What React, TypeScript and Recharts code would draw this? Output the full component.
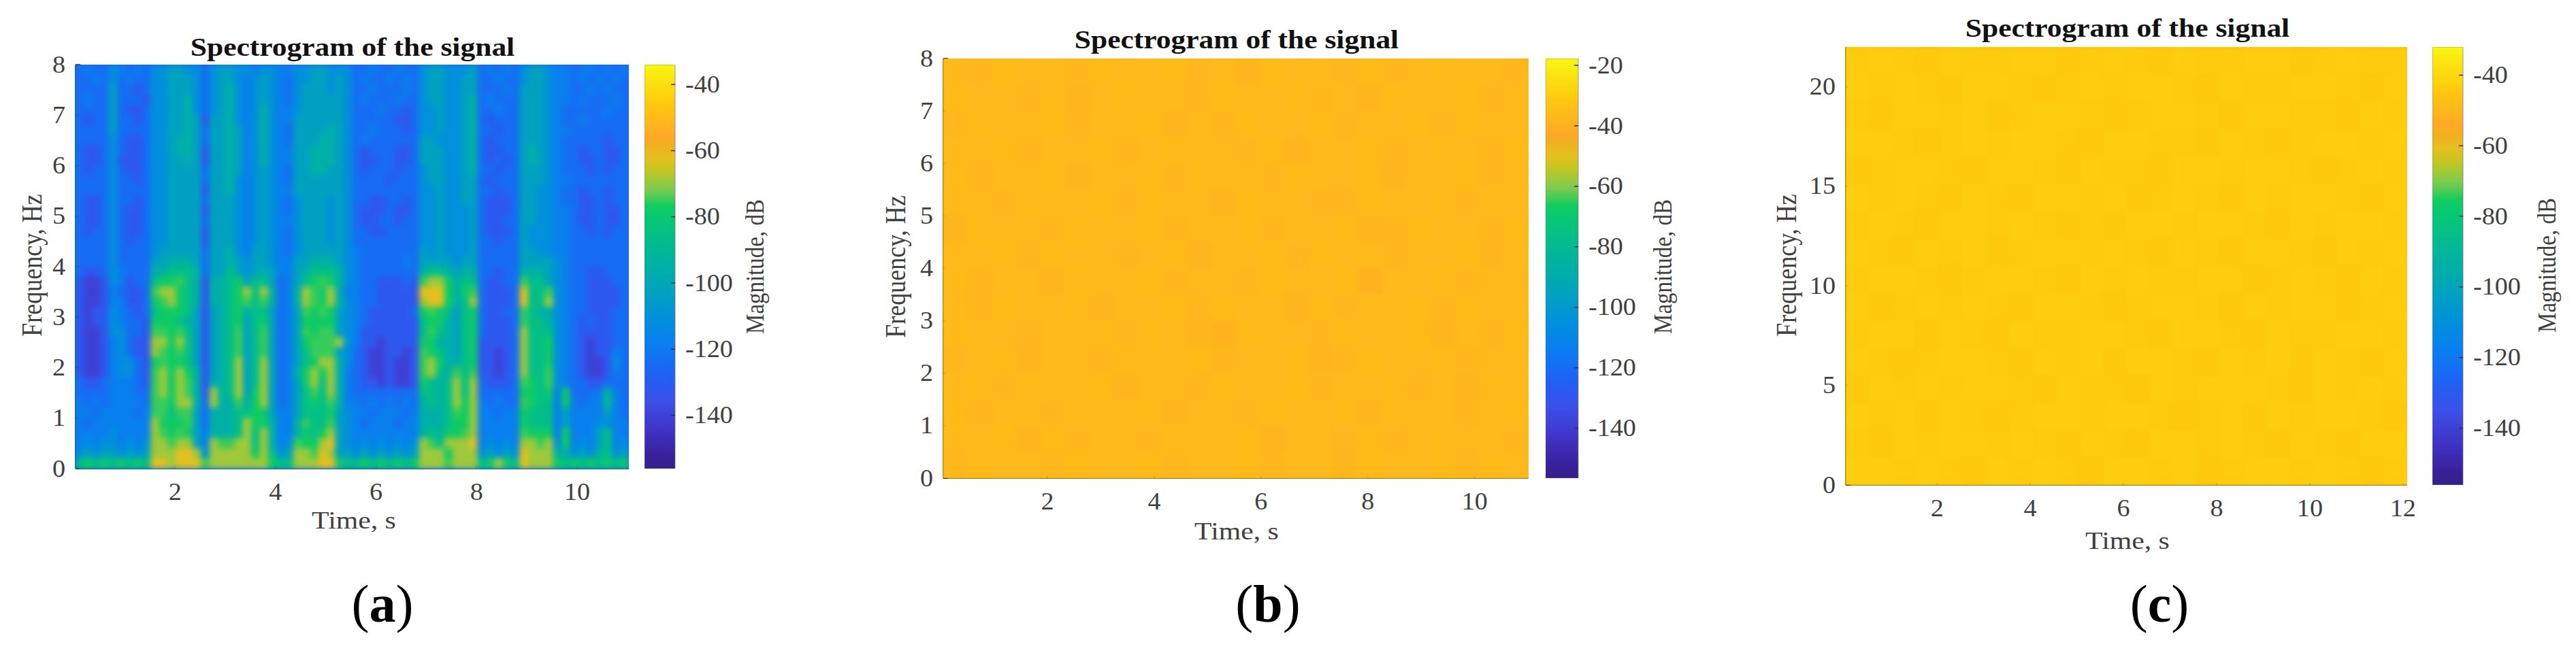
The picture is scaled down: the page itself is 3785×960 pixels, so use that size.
import { Bar, BarChart, ReferenceArea, Scatter, ScatterChart, XAxis, YAxis } from "recharts"

// magnitude of each code used in the spectrogram rows, dB
const speechLevels = [-140, -131.5, -124, -118, -111, -103, -95, -86, -78, -75, -69, -62]
const noiseLevelsB = [-36.4, -37, -37.6, -38.2, -39.2]
const noiseLevelsC = [-43, -43.6, -44.2, -44.8, -45.5]

// panel (a), top row = 8 Hz, bottom row = 0 Hz, spaces only group columns
const speechRows = [
  "2322 4 3232 445544 2 4554 4344 33 445544 4 22322322 4554445 23232 4554 33 2332323",
  "2232 4 2322 445554 2 4554 3454 32 445545 4 23223232 4554455 22322 4554 33 2323232",
  "2222 5 2212 445554 2 4564 3454 32 455545 4 22322232 4554455 22232 5554 33 2232322",
  "2322 5 2221 445564 2 4564 3454 32 455555 4 23222322 4554456 23222 5554 33 2322232",
  "2222 5 2112 445564 2 4564 3464 33 455555 4 22232212 4454456 22322 5554 32 2222322",
  "2122 5 2212 445565 1 5564 3464 33 555555 4 22222112 4454456 21222 5554 32 2322222",
  "2222 5 2222 445565 2 5565 3464 32 555565 4 22322212 4454456 22122 5554 33 2222222",
  "2222 4 2112 445665 2 5565 3464 32 555665 4 23222222 5544456 21222 5554 32 2222122",
  "2112 4 2112 445665 1 5565 3464 33 556665 4 21222112 5554456 21122 5654 32 2122112",
  "2112 4 1112 445565 1 5565 3464 33 556665 4 21122112 5554456 21212 5654 32 2112112",
  "2122 4 2112 445555 2 5565 3454 32 556655 4 21222122 4554456 22122 5554 32 2212122",
  "2222 4 2212 445555 2 5564 3454 32 555555 4 22221222 4554455 21222 5554 33 2222222",
  "2222 4 2222 445555 1 5564 3454 33 555555 4 22222222 4454455 22122 5544 32 2122122",
  "2112 4 2212 445555 2 5554 3454 32 455545 4 22112212 4454455 21112 5544 32 2112122",
  "2112 4 2112 445555 1 5554 3454 32 455545 4 21112112 4454445 21112 5544 33 2112112",
  "2112 4 2112 445555 2 5554 3454 33 455545 4 21122122 4454445 21122 5544 33 2112112",
  "2122 4 2112 445555 1 5554 3454 32 455545 4 22112222 4454445 21112 5444 33 2212122",
  "2222 4 2122 445555 1 5554 3454 32 455545 4 22222222 4454445 22122 5444 33 2222222",
  "2222 4 2222 455555 2 5564 3554 32 455555 4 32222222 5454445 22222 5544 33 2222222",
  "2222 4 2222 556665 2 5565 4554 33 556665 4 32222232 5555455 22222 5555 43 2222222",
  "2112 4 3222 667776 2 5575 4565 33 567776 4 32222222 6776566 22122 6665 43 2211222",
  "1001 4 3122 788976 1 6678 5775 23 578986 4 32211121 9aa8677 21122 9775 43 2211122",
  "1001 3 2112 9aa876 1 6678 a7a6 23 6a98a6 3 32211111 bbb8689 21112 b779 43 2211112",
  "1001 3 3112 89a876 1 6678 9796 23 6a98a6 4 32211111 abb867a 21112 b77a 43 2211112",
  "1011 4 3212 788875 1 5678 6775 23 598985 4 32111112 8987578 21122 9766 43 2211122",
  "1011 4 3221 888765 1 5678 5785 23 588885 4 32111111 7886578 21112 9776 43 2121122",
  "1001 4 4221 998975 1 5679 5795 23 598995 4 31111111 7976578 21112 a777 43 2111122",
  "1001 3 4211 aa8a75 1 5679 5795 23 58999a 4 31101111 8866578 11112 a778 43 2101122",
  "1001 3 4211 a98975 1 5679 5795 23 579995 4 21001101 9876578 11012 a778 43 2101132",
  "1001 3 4421 898875 1 567a 57a5 23 578aa6 4 21001001 9a86678 11012 a778 43 2100142",
  "1001 3 4421 9a8a86 1 567a 57a5 23 68a8a6 3 21001001 9a76979 11012 a779 43 2100132",
  "2112 3 3321 9a8a96 1 667a 57a5 23 58a7a6 3 21101001 8767a7a 21112 9879 43 2211222",
  "2222 3 3322 9a8a96 1 a67a 58a5 23 5797a6 3 22222222 7767a7a 22222 8878 38 2223632",
  "3232 3 3332 998aa6 2 a669 68a5 23 578796 3 32323232 6767a8a 32322 9877 38 3233732",
  "3323 3 3323 997995 2 6667 7885 33 577785 4 33233323 666798a 33233 8777 35 3333532",
  "3233 3 3333 a88895 2 6667 a886 33 697795 4 32333233 666788a 33333 8777 35 3334433",
  "3333 4 3333 a98985 3 6667 a7a6 33 6878a5 4 33333333 676889a 33333 9888 38 3335733",
  "3434 4 3434 aa9aa5 3 a99a a7a6 34 988ab5 4 34343434 a97aaab 34343 aa9a 48 3435734",
  "4545 5 4545 aaabba 4 aaaa a8a7 45 aa9ba5 5 45454545 aaa8aaa 45454 baaa 66 4546745",
  "7878 7 8787 bbabbb 9 aaaa aaa8 77 aaabb8 7 78787878 aaa9aaa 78a87 baaa 87 8787878",
]

// panel (b), white noise, only a faint mottling is readable
const noiseRowsB = [
  "120112011021301120210112",
  "011203101120110213011021",
  "201102110312011021102011",
  "110211021011203110210120",
  "021103110201120110311021",
  "112011020113011220110201",
  "301120110211021103201120",
  "110201121031102011211031",
  "021130110211201104110211",
  "120110311020113021102011",
  "011211020134011201103120",
  "210311201102110320110211",
  "102011031120110211021301",
  "021120110311201103011210",
  "110302112011031120210112",
  "201120110211021130110201",
]

// panel (c), white noise
const noiseRowsC = [
  "101201100210120110021011",
  "010120012101001201100120",
  "120010210012100120011201",
  "001210100120011201210010",
  "210012001201120010012101",
  "010120120010210120100120",
  "101200101212001001201001",
  "012010210010120120012010",
  "100121001201011002101201",
  "021010120012100120100210",
  "100201201100120012011001",
  "012100120102001201020120",
  "201010012011201000120101",
  "010201210010012102010012",
  "120100101201200101201200",
  "001012010120010210010121",
]

const timeTicksAB = [2, 4, 6, 8, 10]
const timeTicksC = [2, 4, 6, 8, 10, 12]
const freqTicksAB = [0, 1, 2, 3, 4, 5, 6, 7, 8]
const freqTicksC = [0, 5, 10, 15, 20]
const magTicksAC = [-40, -60, -80, -100, -120, -140]
const magTicksB = [-20, -40, -60, -80, -100, -120, -140]

const SERIF = "'Liberation Serif', 'Times New Roman', serif"
const STRETCH = 1.16
const TICK_STRETCH = 1.09
const TEXT_GREY = "#404040"

// colour bar, position between the limits -> colour
const colorStops: [number, string][] = [
  [0, "#35208c"],
  [0.03, "#38209a"],
  [0.1, "#4035c8"],
  [0.17, "#3c50ea"],
  [0.23, "#2060f4"],
  [0.3, "#0a7cf2"],
  [0.37, "#0090dc"],
  [0.45, "#00a5ba"],
  [0.54, "#00b896"],
  [0.62, "#06c872"],
  [0.65, "#12cc5e"],
  [0.69, "#7acc50"],
  [0.74, "#c8c620"],
  [0.77, "#e4c01e"],
  [0.8, "#f0b020"],
  [0.82, "#ffa826"],
  [0.9, "#ffc80e"],
  [1, "#f8f510"],
]

const hexToRgb = (hex: string) => [1, 3, 5].map((i) => parseInt(hex.slice(i, i + 2), 16))

const colorFor = (db: number, limits: number[]) => {
  const f = Math.min(1, Math.max(0, (db - limits[0]) / (limits[1] - limits[0])))
  let i = 0
  while (i < colorStops.length - 2 && colorStops[i + 1][0] < f) i++
  const [f0, c0] = colorStops[i]
  const [f1, c1] = colorStops[i + 1]
  const a = hexToRgb(c0)
  const b = hexToRgb(c1)
  const k = (f - f0) / (f1 - f0)
  return `rgb(${a.map((v, j) => Math.round(v + (b[j] - v) * k)).join(",")})`
}

const buildCells = (rows: string[], levels: number[], time: number[], freq: number[]) => {
  const grid = rows.map((r) => r.replaceAll(" ", ""))
  const dt = (time[1] - time[0]) / grid[0].length
  const df = (freq[1] - freq[0]) / grid.length
  return grid.flatMap((row, r) =>
    row.split("").map((ch, c) => ({
      t: time[0] + (c + 0.5) * dt,
      f: freq[1] - (r + 0.5) * df,
      db: levels[parseInt(ch, 16)],
    })),
  )
}

const panels = [
  {
    id: "a",
    slotX: 0,
    slotW: 1260,
    plot: { left: 111, right: 924, top: 95, bottom: 689 },
    bar: { left: 947, right: 992 },
    time: [0.02, 11.03],
    freq: [0, 8],
    limits: [-156.1, -34],
    timeTicks: timeTicksAB,
    freqTicks: freqTicksAB,
    magTicks: magTicksAC,
    rows: speechRows,
    levels: speechLevels,
    blur: 4,
    backing: "#1c68f0",
    edge: "#0b6f96",
    titleAt: [518, 70],
    timeAt: [520, 765],
    freqAt: [47, 390],
    magAt: [1109, 392],
    tagAt: [562, 888],
  },
  {
    id: "b",
    slotX: 1260,
    slotW: 1265,
    plot: { left: 1386, right: 2246, top: 86, bottom: 703 },
    bar: { left: 2271, right: 2319 },
    time: [0.05, 11.01],
    freq: [0, 8],
    limits: [-156.5, -17.75],
    timeTicks: timeTicksAB,
    freqTicks: freqTicksAB,
    magTicks: magTicksB,
    rows: noiseRowsB,
    levels: noiseLevelsB,
    blur: 2,
    backing: "#fbb517",
    edge: "#a88a20",
    titleAt: [1817, 59],
    timeAt: [1817, 781],
    freqAt: [1316, 392],
    magAt: [2443, 392],
    tagAt: [1863, 888],
  },
  {
    id: "c",
    slotX: 2525,
    slotW: 1260,
    plot: { left: 2712, right: 3537, top: 69, bottom: 713 },
    bar: { left: 3574, right: 3619 },
    time: [0.04, 12.09],
    freq: [0, 22],
    limits: [-156.1, -32],
    timeTicks: timeTicksC,
    freqTicks: freqTicksC,
    magTicks: magTicksAC,
    rows: noiseRowsC,
    levels: noiseLevelsC,
    blur: 2,
    backing: "#ffc60a",
    edge: "#a88a20",
    titleAt: [3126, 42],
    timeAt: [3126, 795],
    freqAt: [2625, 390],
    magAt: [3742, 390],
    tagAt: [3173, 888],
  },
]

const StretchedTick = (props: any) => {
  const { x, y, payload, textAnchor, dy } = props
  return (
    <text
      transform={`translate(${x},${y}) scale(${TICK_STRETCH},1)`}
      textAnchor={textAnchor}
      dy={dy}
      fontFamily={SERIF}
      fontSize={35}
      fill={TEXT_GREY}
    >
      {payload.value}
    </text>
  )
}

const Title = ({ x, y, text }: { x: number; y: number; text: string }) => (
  <text
    transform={`translate(${x},${y}) scale(${STRETCH},1)`}
    textAnchor="middle"
    dy="0.33em"
    fontFamily={SERIF}
    fontSize={37.5}
    fontWeight="bold"
    fill="#111"
  >
    {text}
  </text>
)

const AxisText = ({ x, y, text, size = 36, vertical = false }: { x: number; y: number; text: string; size?: number; vertical?: boolean }) => (
  <text
    transform={
      vertical
        ? `translate(${x},${y}) scale(${STRETCH},1) rotate(-90)`
        : `translate(${x},${y}) scale(${STRETCH},1)`
    }
    textAnchor="middle"
    dy="0.33em"
    fontFamily={SERIF}
    fontSize={size}
    fill={TEXT_GREY}
  >
    {text}
  </text>
)

const Panel = ({ p }: { p: (typeof panels)[number] }) => {
  const cells = buildCells(p.rows, p.levels, p.time, p.freq)
  const plotW = p.plot.right - p.plot.left
  const plotH = p.plot.bottom - p.plot.top
  const cellW = plotW / p.rows[0].replaceAll(" ", "").length + 1
  const cellH = plotH / p.rows.length + 1
  // every axis below takes 1px out of the chart
  const margin = {
    left: p.plot.left - p.slotX - 1,
    right: p.slotX + p.slotW - p.plot.right - 1,
    top: p.plot.top - 1,
    bottom: 960 - p.plot.bottom - 1,
  }
  const tickLine = { stroke: "#2a2a2a", strokeWidth: 1.5 }
  const shape = (s: any) => (
    <rect x={s.cx - cellW / 2} y={s.cy - cellH / 2} width={cellW} height={cellH} fill={colorFor(s.payload.db, p.limits)} />
  )
  const gradientId = `parula-${p.id}`

  return (
    <div style={{ position: "absolute", left: p.slotX, top: 0, width: p.slotW, height: 960 }}>
      <div style={{ position: "absolute", left: 0, top: 0 }}>
        <ScatterChart width={p.slotW} height={960} margin={margin}>
          <ReferenceArea x1={p.time[0]} x2={p.time[1]} y1={p.freq[0]} y2={p.freq[1]} fill={p.backing} fillOpacity={1} stroke="none" />
          <Scatter
            data={cells}
            className={`heat-${p.id}`}
            shape={shape}
            isAnimationActive={false}
          />
          <XAxis
            dataKey="t"
            type="number"
            domain={p.time}
            ticks={p.timeTicks}
            interval={0}
            allowDataOverflow
            height={1}
            tickSize={-7}
            tickMargin={41}
            tickLine={tickLine}
            axisLine={{ stroke: p.edge, strokeWidth: 2 }}
            tick={<StretchedTick dy="0.33em" />}
          />
          <YAxis
            dataKey="f"
            type="number"
            domain={p.freq}
            ticks={p.freqTicks}
            interval={0}
            allowDataOverflow
            width={1}
            tickSize={-7}
            tickMargin={22}
            tickLine={tickLine}
            axisLine={{ stroke: p.edge, strokeWidth: 2 }}
            tick={<StretchedTick dy="0.33em" />}
          />
          <XAxis
            xAxisId="top"
            orientation="top"
            type="number"
            domain={p.time}
            ticks={p.timeTicks}
            interval={0}
            allowDataOverflow
            height={1}
            tickSize={-7}
            tick={false}
            tickLine={tickLine}
            axisLine={false}
          />
          <YAxis
            yAxisId="right"
            orientation="right"
            type="number"
            domain={p.freq}
            ticks={p.freqTicks}
            interval={0}
            allowDataOverflow
            width={1}
            tickSize={-7}
            tick={false}
            tickLine={tickLine}
            axisLine={false}
          />
          <Title x={p.titleAt[0] - p.slotX} y={p.titleAt[1]} text="Spectrogram of the signal" />
          <AxisText x={p.timeAt[0] - p.slotX} y={p.timeAt[1]} text="Time, s" />
          <AxisText x={p.freqAt[0] - p.slotX} y={p.freqAt[1]} text="Frequency, Hz" vertical />
          <AxisText x={p.magAt[0] - p.slotX} y={p.magAt[1]} text="Magnitude, dB" size={33} vertical />
          <text x={p.tagAt[0] - p.slotX} y={p.tagAt[1]} textAnchor="middle" dy="0.33em" fontFamily={SERIF} fontSize={78} fill="#000">
            (<tspan fontWeight="bold">{p.id}</tspan>)
          </text>
        </ScatterChart>
      </div>
      <div style={{ position: "absolute", left: p.bar.left - p.slotX, top: 0 }}>
        <BarChart
          width={p.slotX + p.slotW - p.bar.left}
          height={960}
          data={[{ name: "magnitude", range: p.limits }]}
          margin={{ left: 0, right: p.slotX + p.slotW - p.bar.right - 1, top: p.plot.top, bottom: 960 - p.plot.bottom }}
          barCategoryGap={0}
        >
          <defs>
            <linearGradient id={gradientId} x1="0" y1="1" x2="0" y2="0">
              {colorStops.map(([f, c]) => (
                <stop key={f} offset={f} stopColor={c} />
              ))}
            </linearGradient>
          </defs>
          <XAxis dataKey="name" hide />
          <YAxis
            orientation="right"
            type="number"
            domain={p.limits}
            ticks={p.magTicks}
            interval={0}
            allowDataOverflow
            width={1}
            tickSize={-6}
            tickMargin={21}
            tickLine={{ stroke: "#333", strokeWidth: 1.5 }}
            axisLine={false}
            tick={<StretchedTick dy="0.33em" />}
          />
          <Bar
            dataKey="range"
            fill={`url(#${gradientId})`}
            stroke="#777"
            strokeOpacity={0.35}
            strokeWidth={2}
            isAnimationActive={false}
          />
        </BarChart>
      </div>
    </div>
  )
}

export default function App() {
  return (
    <div style={{ position: "absolute", left: 0, top: 0, width: 3785, height: 960, background: "#fff", overflow: "hidden" }}>
      <style>{panels.map((p) => `.heat-${p.id}{filter:blur(${p.blur}px)}`).join("")}</style>
      {panels.map((p) => (
        <Panel key={p.id} p={p} />
      ))}
    </div>
  )
}
